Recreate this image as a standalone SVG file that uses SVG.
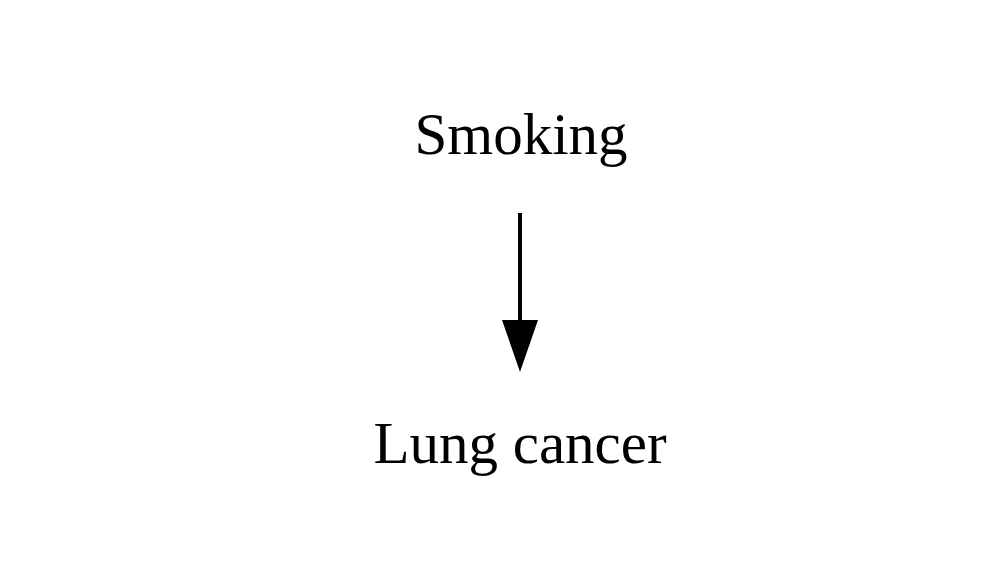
<svg xmlns="http://www.w3.org/2000/svg" width="1000" height="580" viewBox="0 0 1000 580">
<style>
.lbl{font-family:"Liberation Serif","Times New Roman",serif;font-size:59px;fill:#000;text-anchor:middle}
</style>
<rect width="1000" height="580" fill="#fff"/>
<g id="connectors">
<line x1="520" y1="213" x2="520" y2="322" stroke="#000" stroke-width="4"/>
<polygon points="502,320 538,320 520,372" fill="#000"/>
</g>
<g id="smoking"><text class="lbl" x="521" y="154">Smoking</text></g>
<g id="lung-cancer"><text class="lbl" x="520" y="463">Lung cancer</text></g>
</svg>
